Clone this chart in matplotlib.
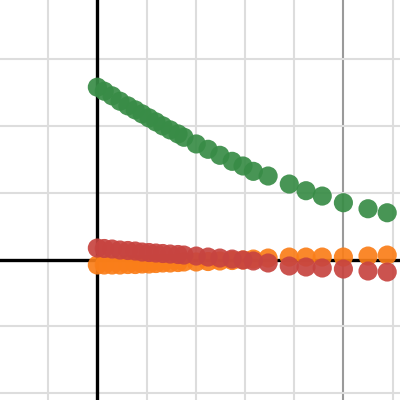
import matplotlib
matplotlib.use("Agg")
import matplotlib.pyplot as plt

x_vals = [0.0, 0.14, 0.30, 0.46, 0.62, 0.77, 0.91, 1.05, 1.19, 1.33, 1.48, 1.64, 1.76,
          2.01, 2.25, 2.49, 2.74, 2.96, 3.17, 3.47, 3.90, 4.24, 4.57, 5.0, 5.5, 5.89]
green_vals = [2.58, 2.52, 2.45, 2.37, 2.30, 2.24, 2.18, 2.12, 2.06, 2.00, 1.94, 1.88, 1.83,
              1.73, 1.65, 1.56, 1.47, 1.40, 1.32, 1.25, 1.13, 1.03, 0.95, 0.85, 0.76, 0.70]
orange_vals = [-0.082, -0.082, -0.082, -0.082, -0.075, -0.075, -0.067, -0.067, -0.060, -0.052,
               -0.052, -0.045, -0.037, -0.037, -0.030, -0.022, -0.015, -0.007, 0.007, 0.022,
               0.037, 0.037, 0.037, 0.037, 0.052, 0.067]
red_vals = [0.172, 0.165, 0.157, 0.142, 0.135, 0.127, 0.112, 0.105, 0.097, 0.090, 0.082,
            0.075, 0.067, 0.052, 0.037, 0.022, 0.007, -0.007, -0.022, -0.052, -0.097,
            -0.112, -0.127, -0.142, -0.172, -0.187]

fig = plt.figure(figsize=(4, 4), dpi=100)
ax = fig.add_axes([0, 0, 1, 1])
ax.set_xlim(-1.978, 6.15)
ax.set_ylim(-2.103, 3.885)

for gx in range(-1, 7):
    if gx == 0:
        continue
    col = '#9a9a9a' if gx % 5 == 0 else '#dddddd'
    ax.axvline(gx, color=col, lw=1.5, zorder=0)
for gy in range(-2, 4):
    if gy == 0:
        continue
    ax.axhline(gy, color='#dddddd', lw=1.5, zorder=0)
ax.axvline(0, color='black', lw=2.4, zorder=1)
ax.axhline(0, color='black', lw=2.4, zorder=1)

ms = 190
ax.scatter(x_vals, green_vals, s=ms, color='#388c46', alpha=0.92, edgecolors='none', zorder=3)
ax.scatter(x_vals, orange_vals, s=ms, color='#fa7e19', alpha=0.92, edgecolors='none', zorder=3)
ax.scatter(x_vals, red_vals, s=ms, color='#c74440', alpha=0.92, edgecolors='none', zorder=4)

ax.set_xticks([])
ax.set_yticks([])
for s in ax.spines.values():
    s.set_visible(False)

fig.savefig('out.png', dpi=100)
